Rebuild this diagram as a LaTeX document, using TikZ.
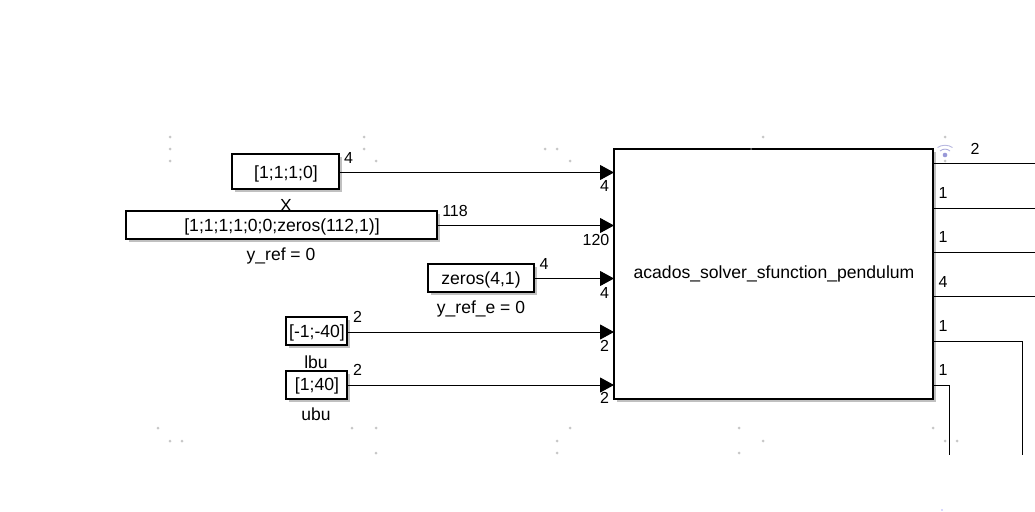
\documentclass[tikz,border=0pt]{standalone}
\usepackage{fontspec}
\setmainfont{Liberation Sans}
\usetikzlibrary{arrows.meta,shadows}
\tikzset{
  x=1pt,y=-1pt,
  blk/.style={draw=black,line width=1.4pt,fill=white,inner sep=0pt,anchor=north west,
    copy shadow={draw=none,fill=black!35,opacity=.7,shadow xshift=2.6pt,shadow yshift=-2.6pt}},
  btxt/.style={inner sep=0pt,font=\fontsize{17.6}{20}\selectfont},
  lab/.style={inner sep=0pt,font=\fontsize{17.5}{20}\selectfont},
  num/.style={inner sep=0pt,font=\fontsize{16}{18}\selectfont},
  sig/.style={draw=black,line width=1pt},
  sigin/.style={sig,-{Triangle[length=14pt,width=15pt,fill=black]}},
  griddot/.style={fill=black!22,draw=none},
}
\begin{document}
\begin{tikzpicture}
\useasboundingbox (0,0) rectangle (1035,511);
\fill[white] (0,0) rectangle (1035,511);
% grid dots
\foreach \p in {(170,137),(170,149),(170,161),(364,137),(364,149),(376,161),(545,149),(557,149),(570,161),(763,137),(751,161),(945,137),(945,161),(158,428),(170,441),(182,441),(352,428),(376,428),(376,453),(570,428),(557,441),(557,453),(739,428),(763,441),(739,453),(933,428),(945,441),(957,441)}
  \fill[griddot] \p circle (1.5);
\fill[blue!30] (942,510) circle (.8);
% blocks
\node[blk,minimum width=319pt,minimum height=250pt] (main) at (613.3,148.4) {};
\node[btxt] (mainlab) at (774,274) {acados\_solver\_sfunction\_pendulum};
\node[blk,minimum width=107pt,minimum height=35pt] (c1) at (231.3,153.4) {};
\node[btxt] (c1t) at (286,174) {[1;1;1;0]};
\node[blk,minimum width=311pt,minimum height=28pt] (c2) at (125.3,210.4) {};
\node[btxt] (c2t) at (282,227) {[1;1;1;1;0;0;zeros(112,1)]};
\node[blk,minimum width=106pt,minimum height=28pt] (c3) at (427.3,263.4) {};
\node[btxt] (c3t) at (481,280) {zeros(4,1)};
\node[blk,minimum width=61pt,minimum height=28pt] (c4) at (285.3,316.4) {};
\node[btxt] (c4t) at (317,333) {[-1;-40]};
\node[blk,minimum width=61pt,minimum height=28pt] (c5) at (285.3,370.4) {};
\node[btxt] (c5t) at (317,386) {[1;40]};
\fill[white,opacity=.45] (751,149) circle (1);
% block labels
\node[lab] (l1) at (286,205) {X};
\node[lab] (l2) at (281,256) {y\_ref = 0};
\node[lab] (l3) at (481,309) {y\_ref\_e = 0};
\node[lab] (l4) at (316,362) {lbu};
\node[lab] (l5) at (316,414.5) {ubu};
% input ports
\coordinate (in1) at (614,172.5);
\coordinate (in2) at (614,225.5);
\coordinate (in3) at (614,278.5);
\coordinate (in4) at (614,332);
\coordinate (in5) at (614,385);
\coordinate (s1) at (c1.east |- in1);
\coordinate (s2) at (c2.east |- in2);
\coordinate (s3) at (c3.east |- in3);
\coordinate (s4) at (c4.east |- in4);
\coordinate (s5) at (c5.east |- in5);
% input signals
\draw[sigin] (s1) -- (in1);
\draw[sigin] (s2) -- (in2);
\draw[sigin] (s3) -- (in3);
\draw[sigin] (s4) -- (in4);
\draw[sigin] (s5) -- (in5);
% output signals
\coordinate (o1) at (933,163.5); \coordinate (e1) at (1035,163.5);
\coordinate (o2) at (933,208); \coordinate (e2) at (1035,208);
\coordinate (o3) at (933,252.5); \coordinate (e3) at (1035,252.5);
\coordinate (o4) at (933,296.5); \coordinate (e4) at (1035,296.5);
\coordinate (o5) at (933,341); \coordinate (e5) at (1022.5,455);
\coordinate (o6) at (933,385); \coordinate (e6) at (949.5,455);
\draw[sig] (o1) -- (e1);
\draw[sig] (o2) -- (e2);
\draw[sig] (o3) -- (e3);
\draw[sig] (o4) -- (e4);
\draw[sig] (o5) -| (e5);
\draw[sig] (o6) -| (e6);
% dimension labels
\foreach \n/\x/\y/\t in {a/348.5/158/4,b/455/211/118,c/544/264/4,d/357.5/317/2,e/357.5/370/2,
  f/604.5/186/4,g/596/240/120,h/604.5/293/4,i/604.5/346/2,j/604.5/398/2,
  k/975/149/2,m/943/193/1,n/943/237/1,o/943/282/4,p/943/326/1,q/943/370/1}
  \node[num] (dim\n) at (\x,\y) {\t};
% wireless badge
\fill[blue!45!gray!55] (945,155) circle (2.3);
\draw[blue!40!gray!45,line width=.9pt] (940,151) .. controls (943,148.5) and (947,148.5) .. (950,151);
\draw[blue!40!gray!40,line width=.9pt] (937.5,147.5) .. controls (942,144.5) and (948,144.5) .. (952.5,147.5);
\end{tikzpicture}
\end{document}
